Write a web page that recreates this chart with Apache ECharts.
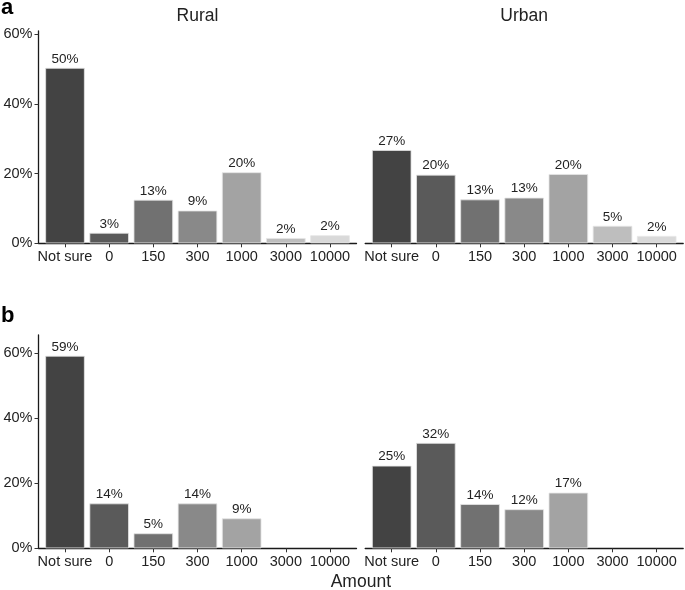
<!DOCTYPE html>
<html>
<head>
<meta charset="utf-8">
<script src="https://cdn.jsdelivr.net/npm/echarts@6/dist/echarts.min.js"></script>
<style>
html,body{margin:0;padding:0;background:#fff;}
#c{width:685px;height:590px;}
</style>
</head>
<body>
<div id="c"></div>
<script>
// ---- data ----
const categories = ['Not sure', '0', '150', '300', '1000', '3000', '10000'];
const ruralA = [50.4, 3.0, 12.5, 9.4, 20.4, 1.5, 2.3];
const urbanA = [26.8, 19.7, 12.6, 13.1, 19.9, 5.0, 2.1];
const ruralB = [59.2, 13.8, 4.6, 13.8, 9.2, 0, 0];
const urbanB = [25.4, 32.4, 13.6, 12.0, 17.1, 0, 0];
const panelTitles = ['Rural', 'Urban'];
const panelLetters = ['a', 'b'];
const yTicks = [0, 20, 40, 60];
const xTitle = 'Amount';

// ---- styles ----
const palette = ['#434343', '#5a5a5a', '#717171', '#898989', '#a3a3a3', '#bebebe', '#d9d9d9'];
const FONT = '"Liberation Sans", Arial, Helvetica, sans-serif';
const TXT = '#222';

const chart = echarts.init(document.getElementById('c'), null, {renderer: 'canvas'});

const grids = [
  {left: 38.5, top: 31, width: 318, height: 212.3},
  {left: 365.2, top: 31, width: 318, height: 212.3},
  {left: 38.5, top: 335, width: 318, height: 213.3},
  {left: 365.2, top: 335, width: 318, height: 213.3}
];
const yMax = [61, 61, 65.6, 65.6];
const panels = [ruralA, urbanA, ruralB, urbanB];
const catIdx = categories.map((c, i) => i);

const xAxes = grids.map((g, k) => ({
  type: 'value', gridIndex: k, min: -0.6, max: 6.6,
  splitLine: {show: false},
  axisLine: {show: true, onZero: false, lineStyle: {color: '#1a1a1a', width: 1.3}},
  axisTick: {show: true, customValues: catIdx, length: 4, lineStyle: {color: '#333', width: 1}},
  axisLabel: {customValues: catIdx, formatter: v => categories[Math.round(v)], margin: 6,
    fontFamily: FONT, fontSize: 14.5, color: TXT}
}));
const yAxes = grids.map((g, k) => {
  const left = (k % 2 === 0);
  return {
    type: 'value', gridIndex: k, min: 0, max: yMax[k],
    splitLine: {show: false},
    axisLine: {show: left, onZero: false, lineStyle: {color: '#1a1a1a', width: 1.3}},
    axisTick: {show: left, customValues: yTicks, length: 4, lineStyle: {color: '#333', width: 1}},
    axisLabel: {show: left, customValues: yTicks, formatter: v => v + '%', margin: 6,
      fontFamily: FONT, fontSize: 14.5, color: TXT}
  };
});

const series = panels.map((vals, k) => ({
  type: 'bar', xAxisIndex: k, yAxisIndex: k,
  barWidth: 39.5,
  itemStyle: {borderColor: '#e4e4e4', borderWidth: 0.8},
  label: {show: true, position: 'top', distance: 2, fontFamily: FONT, fontSize: 13.5, color: TXT,
    formatter: p => Math.round(p.value[1]) + '%'},
  data: vals.map((v, i) => v > 0
    ? {value: [i, v], itemStyle: {color: palette[i]}}
    : {value: [i, '-']})
}));

const graphics = [];
panelTitles.forEach((t, i) => {
  const g = grids[i];
  graphics.push({type: 'text', x: g.left + g.width / 2, y: 16,
    style: {text: t, font: '17.5px ' + FONT, fill: TXT, align: 'center', verticalAlign: 'middle'}});
});
graphics.push({type: 'text', x: 1, y: 8,
  style: {text: panelLetters[0], font: 'bold 22px ' + FONT, fill: '#000', align: 'left', verticalAlign: 'middle'}});
graphics.push({type: 'text', x: 1, y: 315.5,
  style: {text: panelLetters[1], font: 'bold 22px ' + FONT, fill: '#000', align: 'left', verticalAlign: 'middle'}});
graphics.push({type: 'text', x: (grids[2].left + grids[3].left + grids[3].width) / 2, y: 582,
  style: {text: xTitle, font: '17.5px ' + FONT, fill: TXT, align: 'center', verticalAlign: 'middle'}});

chart.setOption({
  animation: false,
  backgroundColor: '#fff',
  grid: grids,
  xAxis: xAxes,
  yAxis: yAxes,
  series: series,
  graphic: graphics
});
</script>
</body>
</html>
